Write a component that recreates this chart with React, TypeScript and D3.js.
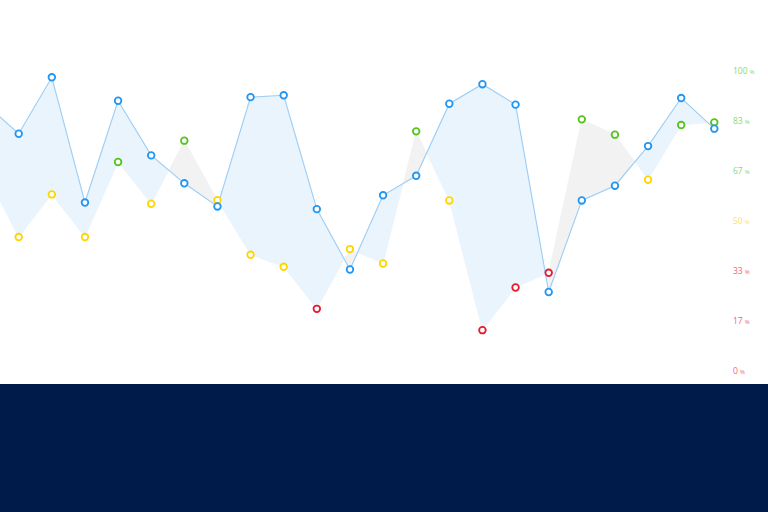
import React from 'react';
import * as d3 from 'd3';

// index -1 sits just off the left edge of the plot
const indices = [-1, 0, 1, 2, 3, 4, 5, 6, 7, 8, 9, 10, 11, 12, 13, 14, 15, 16, 17, 18, 19, 20, 21];
const blueValues = [89, 79.1, 97.9, 56.2, 90.1, 71.9, 62.6, 54.9, 91.3, 91.9, 54, 33.9, 58.6, 65.1, 89.1, 95.6, 88.8, 26.4, 56.9, 61.8, 75, 91, 80.8];
const scoreValues = [66, 44.7, 58.9, 44.7, 69.7, 55.8, 76.8, 57, 38.8, 34.8, 20.8, 40.7, 35.9, 79.9, 56.9, 13.7, 27.9, 32.8, 83.9, 78.8, 63.8, 82, 82.9];
const tickValues = [0, 100 / 6, 200 / 6, 50, 400 / 6, 500 / 6, 100];

const BLUE = '#2196f3';
const colorFor = (v: number) => (v < 100 / 3 ? '#e8192c' : v < 200 / 3 ? '#ffd500' : '#52c41a');
const labelColor = (v: number) => (v < 40 ? '#f2646f' : v < 60 ? '#ffe066' : '#82dc6e');

const W = 768;
const H = 512;

const App: React.FC = () => {
  const x = d3.scaleLinear().domain([0, 21]).range([18.7, 714.3]);
  const y = d3.scaleLinear().domain([0, 100]).range([371.3, 71]);

  // split the band between the two series where they cross
  const pieces: { pts: [number, number][]; up: boolean }[] = [];
  for (let k = 0; k < indices.length - 1; k++) {
    const i0 = indices[k], i1 = indices[k + 1];
    const a0 = blueValues[k], a1 = blueValues[k + 1];
    const b0 = scoreValues[k], b1 = scoreValues[k + 1];
    const d0 = a0 - b0, d1 = a1 - b1;
    if (d0 * d1 < 0) {
      const t = d0 / (d0 - d1);
      const ic = i0 + t * (i1 - i0);
      const vc = a0 + t * (a1 - a0);
      pieces.push({ pts: [[i0, a0], [ic, vc], [i0, b0]], up: d0 > 0 });
      pieces.push({ pts: [[ic, vc], [i1, a1], [i1, b1]], up: d1 > 0 });
    } else {
      pieces.push({ pts: [[i0, a0], [i1, a1], [i1, b1], [i0, b0]], up: d0 + d1 >= 0 });
    }
  }

  const line = d3.line<number>()
    .x((_, k) => x(indices[k]))
    .y(d => y(d));

  const poly = (pts: [number, number][]) =>
    pts.map(p => `${x(p[0])},${y(p[1])}`).join(' ');

  return (
    <svg width={W} height={H} style={{ position: 'fixed', left: 0, top: 0 }}
      fontFamily="'Open Sans', 'DejaVu Sans', sans-serif">
      <rect width={W} height={H} fill="#ffffff" />
      {pieces.map((p, k) => (
        <polygon key={k} points={poly(p.pts)} fill={p.up ? '#e9f4fd' : '#f2f2f2'}
          stroke={p.up ? '#e9f4fd' : '#f2f2f2'} strokeWidth={0.6} />
      ))}
      <path d={line(blueValues) || ''} fill="none" stroke="#9ccdf5" strokeWidth={1.1} />
      {scoreValues.map((v, k) => (
        <circle key={'s' + k} cx={x(indices[k])} cy={y(v)} r={3.3}
          fill="#fff" stroke={colorFor(v)} strokeWidth={1.8} />
      ))}
      {blueValues.map((v, k) => (
        <circle key={'b' + k} cx={x(indices[k])} cy={y(v)} r={3.3}
          fill="#fff" stroke={BLUE} strokeWidth={1.8} />
      ))}
      {tickValues.map((t, k) => (
        <text key={'t' + k} x={733} y={y(t)} dy="0.35em" fontSize={8.5} fill={labelColor(t)}>
          {Math.round(t)}
          <tspan dx={2} fontSize={6}>%</tspan>
        </text>
      ))}
      <rect x={0} y={384} width={W} height={H - 384} fill="#001a4a" />
    </svg>
  );
};

export default App;
